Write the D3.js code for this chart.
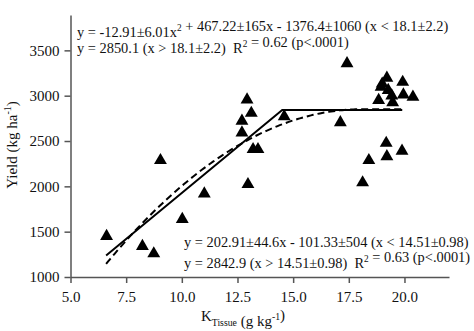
<!DOCTYPE html>
<html><head><meta charset="utf-8">
<script src="https://cdn.jsdelivr.net/npm/d3@7"></script>
<style>body{margin:0;background:#fff;} svg{display:block;} text{font-family:"Liberation Serif","Times New Roman",serif;fill:#111;}</style>
</head><body><svg id="c" width="474" height="331"></svg>
<script>
const kTissue = [6.62,8.23,8.74,9.04,10.02,11.01,12.70,12.70,12.93,12.97,13.12,13.20,13.42,14.60,17.12,17.42,18.12,18.40,18.84,18.95,19.00,19.21,19.27,19.43,19.47,19.92,19.95,20.38,19.18,19.21,19.89];
const yieldVals = [1450,1340,1258,2287,1638,1919,2720,2592,2956,2022,2808,2408,2408,2770,2705,3355,2041,2287,2950,3095,3130,3195,3060,3000,2925,3150,3010,2985,2477,2330,2390];
const xTicks = [5.0,7.5,10.0,12.5,15.0,17.5,20.0];
const yTicks = [1000,1500,2000,2500,3000,3500];
// model coefficients from the figure
const linCoef = {a:202.91, b:-101.33, join:14.51, plateau:2842.9, xmin:6.6, xmax:19.9};
const quadCoef = {a:-12.91, b:467.22, c:-1376.4, join:18.1, plateau:2850.1, xmin:6.6, xmax:19.9};

const svg = d3.select("#c");
const x = d3.scaleLinear().domain([5,22]).range([70.5,449]);
const y = d3.scaleLinear().domain([1000,3890]).range([277,15]);

const xa = svg.append("g").attr("transform","translate(0,277)")
  .call(d3.axisBottom(x).tickValues(xTicks).tickFormat(d3.format(".1f")).tickSize(6).tickSizeOuter(0));
const ya = svg.append("g").attr("transform","translate(70.5,0)")
  .call(d3.axisLeft(y).tickValues(yTicks).tickFormat(d3.format("d")).tickSize(6).tickSizeOuter(0));
[xa,ya].forEach(g=>{
  g.selectAll("path,line").attr("stroke","#555").attr("stroke-width",1.5);
  g.selectAll("text").attr("font-size","15px").attr("font-family","Liberation Serif").attr("fill","#111");
});
xa.selectAll("text").attr("dy","1.05em");
ya.selectAll("text").attr("dx","-2");

// fitted lines
const linF = v => v < linCoef.join ? linCoef.a*v + linCoef.b : linCoef.plateau;
const quadF = v => v < quadCoef.join ? quadCoef.a*v*v + quadCoef.b*v + quadCoef.c : quadCoef.plateau;
const linPts = [linCoef.xmin, linCoef.join, linCoef.xmax].map(v=>[v, linF(v)]);
const quadPts = d3.range(quadCoef.xmin, quadCoef.join, 0.1).concat([quadCoef.join, quadCoef.xmax]).map(v=>[v, quadF(v)]);
const line = d3.line().x(d=>x(d[0])).y(d=>y(d[1]));
svg.append("path").attr("d", line(quadPts)).attr("fill","none").attr("stroke","#000").attr("stroke-width",2).attr("stroke-dasharray","7,4");
svg.append("path").attr("d", line(linPts)).attr("fill","none").attr("stroke","#000").attr("stroke-width",2);

// points
const sym = d3.symbol().type(d3.symbolTriangle).size(72);
svg.append("g").selectAll("path").data(kTissue.map((k,i)=>[k,yieldVals[i]])).join("path")
  .attr("d", sym).attr("transform", d=>`translate(${x(d[0])},${y(d[1])})`).attr("fill","#000");

function rich(xp, yp, parts, fs){
  const t = svg.append("text").attr("x",xp).attr("y",yp).attr("font-size",fs+"px").attr("xml:space","preserve").style("white-space","pre");
  parts.forEach(p=>{
    if (typeof p === "string") t.append("tspan").text(p);
    else if (p.sup) { t.append("tspan").attr("dy",-fs*0.4).attr("font-size",(fs*0.65)+"px").text(p.sup); t.append("tspan").attr("dy",fs*0.4).text(""); }
    else if (p.sub) { t.append("tspan").attr("dy",fs*0.3).attr("font-size",(fs*0.65)+"px").text(p.sub); t.append("tspan").attr("dy",-fs*0.3).text(""); }
  });
  return t;
}
const fsEq = 14.4;
rich(77, 37, ["y = -12.91±6.01x",{sup:"2"}," + 467.22±165x - 1376.4±1060 (x < 18.1±2.2)"], fsEq);
rich(77, 53, ["y = 2850.1 (x > 18.1±2.2)\u00a0\u00a0R",{sup:"2"}," = 0.62 (p<.0001)"], fsEq);
rich(184, 247, ["y = 202.91±44.6x - 101.33±504 (x < 14.51±0.98)"], fsEq);
rich(184, 268, ["y = 2842.9 (x > 14.51±0.98)\u00a0\u00a0R",{sup:"2"}," = 0.63 (p<.0001)"], fsEq);

// axis titles
const xt = rich(0, 321, ["K",{sub:"Tissue"}," (g kg",{sup:"-1"},")"], 15);
const xw = xt.node().getComputedTextLength();
xt.attr("x", 243 - xw/2);
const yt = svg.append("text").attr("transform","translate(17,145) rotate(-90)").attr("text-anchor","middle").attr("font-size","15px");
yt.append("tspan").text("Yield (kg ha");
yt.append("tspan").attr("dy",-6).attr("font-size","10px").text("-1");
yt.append("tspan").attr("dy",6).text(")");
</script></body></html>
